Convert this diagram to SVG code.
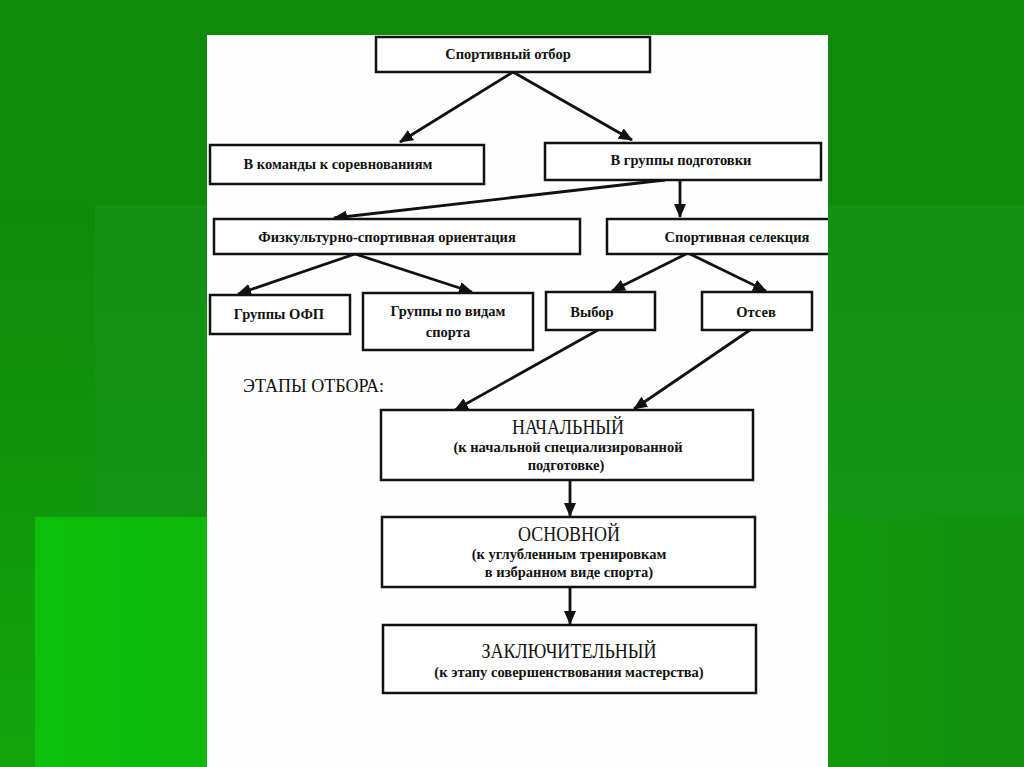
<svg xmlns="http://www.w3.org/2000/svg" width="1024" height="767" viewBox="0 0 1024 767">
<defs>
<linearGradient id="bg" x1="0" y1="0" x2="0" y2="1">
<stop offset="0" stop-color="#0f7f0a"/>
<stop offset="1" stop-color="#12a40f"/>
</linearGradient>
<linearGradient id="bg2" x1="0" y1="0" x2="1" y2="0">
<stop offset="0" stop-color="#0cc00a"/>
<stop offset="1" stop-color="#139010"/>
</linearGradient>
<marker id="ah" viewBox="0 0 14 12" refX="13" refY="6" markerWidth="14" markerHeight="12" orient="auto" markerUnits="userSpaceOnUse">
<path d="M0,0 L14,6 L0,12 z" fill="#111"/>
</marker>
<style>
.box{fill:#fff;stroke:#111;stroke-width:2.5}
.t{font-family:"Liberation Serif","Times New Roman",serif;font-weight:bold;font-size:14.5px;fill:#111;text-anchor:middle}
.h{font-family:"Liberation Serif","Times New Roman",serif;font-size:21px;fill:#111;text-anchor:middle}
.c{stroke:#111;stroke-width:2.8;fill:none;marker-end:url(#ah)}
</style>
</defs>
<rect x="0" y="0" width="1024" height="767" fill="url(#bg)"/>
<rect x="95" y="205" width="929" height="562" fill="#17941a" opacity="0.6"/>
<rect x="35" y="517" width="989" height="250" fill="url(#bg2)"/>
<rect x="0" y="0" width="1024" height="205" fill="#118a0c"/>
<rect x="207" y="35" width="621" height="732" fill="#fefefe"/>
<g id="connectors">
<line class="c" x1="513" y1="72" x2="400" y2="142"/>
<line class="c" x1="513" y1="72" x2="632" y2="140"/>
<line class="c" x1="665" y1="180" x2="334" y2="218"/>
<line class="c" x1="680" y1="180" x2="680" y2="217"/>
<line class="c" x1="355" y1="254" x2="238" y2="294"/>
<line class="c" x1="355" y1="254" x2="472" y2="292"/>
<line class="c" x1="686" y1="254" x2="612" y2="291"/>
<line class="c" x1="690" y1="254" x2="766" y2="291"/>
<line class="c" x1="598" y1="330" x2="455" y2="410"/>
<line class="c" x1="750" y1="330" x2="634" y2="409"/>
<line class="c" x1="570" y1="480" x2="570" y2="516"/>
<line class="c" x1="570" y1="587" x2="570" y2="624"/>
</g>
<g id="n1"><rect class="box" x="376" y="37" width="274" height="35"/><text class="t" x="508" y="59">Спортивный отбор</text></g>
<g id="n2"><rect class="box" x="210" y="145" width="274" height="39"/><text class="t" x="338" y="169">В команды к соревнованиям</text></g>
<g id="n3"><rect class="box" x="545" y="143" width="276" height="37"/><text class="t" x="681" y="165">В группы подготовки</text></g>
<g id="n4"><rect class="box" x="214" y="219" width="366" height="35"/><text class="t" x="387" y="242">Физкультурно-спортивная ориентация</text></g>
<g id="n5"><path class="box" d="M828,219 H607 V254 H828"/><text class="t" x="737" y="242">Спортивная селекция</text></g>
<g id="n6"><rect class="box" x="210" y="295" width="140" height="39"/><text class="t" x="279" y="319">Группы ОФП</text></g>
<g id="n7"><rect class="box" x="363" y="293" width="170" height="57"/><text class="t" x="448" y="316">Группы по видам</text><text class="t" x="448" y="337">спорта</text></g>
<g id="n8"><rect class="box" x="546" y="292" width="109" height="38"/><text class="t" x="592" y="317">Выбор</text></g>
<g id="n9"><rect class="box" x="702" y="292" width="110" height="38"/><text class="t" x="756" y="317">Отсев</text></g>
<text x="243" y="392" font-family="Liberation Serif, Times New Roman, serif" font-size="18" fill="#111">ЭТАПЫ ОТБОРА:</text>
<g id="n10"><rect class="box" x="381" y="410" width="372" height="70"/><text class="h" x="568" y="434" textLength="112" lengthAdjust="spacingAndGlyphs">НАЧАЛЬНЫЙ</text><text class="t" x="568" y="452">(к начальной специализированной</text><text class="t" x="566" y="470">подготовке)</text></g>
<g id="n11"><rect class="box" x="382" y="517" width="373" height="70"/><text class="h" x="569" y="541" textLength="102" lengthAdjust="spacingAndGlyphs">ОСНОВНОЙ</text><text class="t" x="569" y="559">(к углубленным тренировкам</text><text class="t" x="569" y="577">в избранном виде спорта)</text></g>
<g id="n12"><rect class="box" x="383" y="625" width="373" height="68"/><text class="h" x="569" y="658" textLength="175" lengthAdjust="spacingAndGlyphs">ЗАКЛЮЧИТЕЛЬНЫЙ</text><text class="t" x="569" y="677">(к этапу совершенствования мастерства)</text></g>
</svg>
